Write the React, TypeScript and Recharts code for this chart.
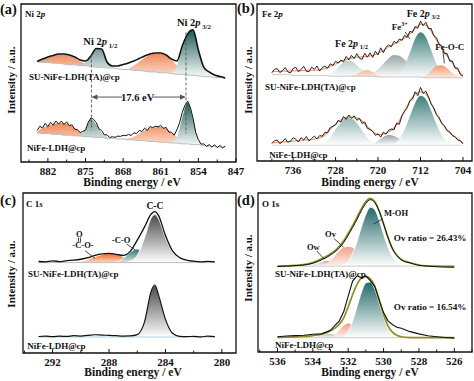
import type { ReactElement } from 'react';
import { ComposedChart, Area, Line, XAxis, YAxis, ReferenceArea, ReferenceLine, ReferenceDot } from 'recharts';

// (a) Ni 2p — fitted curves on a 1 eV grid, intensity in % of plot height
const aEnergy = [884, 883, 882, 881, 880, 879, 878, 877, 876, 875, 874, 873, 872, 871, 870, 869, 868, 867, 866, 865, 864, 863, 862, 861, 860, 859, 858, 857, 856, 855, 854, 853, 852, 851, 850, 849];
const aBgUpper = [63.5, 63, 63, 62.5, 62.5, 62, 61.5, 61.5, 61, 61, 60.5, 60, 60, 59.5, 59.5, 59, 58.5, 58.5, 58, 58, 57.5, 57, 57, 56.5, 56.5, 56, 55.5, 55.5, 55, 55, 54.5, 54, 54, 53.5, 53.5, 53];
const aSatUpper = [63.5, 65, 66.3, 67.2, 68, 68, 67.2, 65.8, 63.8, 62, 60.5, 60, 60, 59.5, 59.5, 59, 58.5, 59, 61, 63.5, 66, 67.8, 68.6, 68.6, 67.4, 64.5, 61, 58, 55.5, 55, 54.5, 54, 54, 53.5, 53.5, 53];
const aNiUpper = [63.5, 63, 63, 62.5, 62.5, 62, 61.5, 61.5, 61.5, 63, 67, 71.5, 71.2, 64, 60, 59.2, 58.5, 58.5, 58, 58, 57.5, 57, 57, 56.5, 56.5, 56.5, 60.5, 72, 80.5, 83.2, 70.5, 60, 56, 54.3, 53.6, 53];
const aFitUpper = [63.6, 65.2, 66.5, 67.4, 68.4, 68.4, 67.7, 66.5, 64.6, 63.9, 67.1, 71.8, 71.5, 63.3, 60.8, 60.8, 61.7, 62.7, 63.9, 65.5, 67.1, 68.4, 69, 69, 67.7, 65.2, 63.9, 73.4, 81, 83.6, 70.9, 60.1, 57, 55.1, 54.1, 53.2];
const aBgLower = [18.5, 18, 18, 17.5, 17.5, 17, 17, 16.5, 16.5, 16, 16, 15.5, 15.5, 15, 15, 14.5, 14.5, 14, 14, 13.5, 13.5, 13, 13, 12.5, 12.5, 12, 12, 11.5, 11.5, 11, 11, 10.5, 10, 10, 9.5, 9.5];
const aSatLower = [19.5, 21.5, 23, 24, 24.5, 24.5, 23.5, 21.5, 19, 17, 16, 15.5, 15.5, 15, 15, 14.5, 14.5, 15, 16, 18, 20, 21.3, 22, 22.2, 21, 18.5, 16, 13, 11.8, 11, 11, 10.5, 10, 10, 9.5, 9.5];
const aNiLower = [18.5, 18, 18, 17.5, 17.5, 17, 17, 16.5, 17, 20.5, 27, 23.5, 18.5, 16, 15, 14.5, 14.5, 14, 14, 13.5, 13.5, 13, 13, 12.5, 12.5, 12.8, 15.5, 28, 37.5, 27, 13.5, 11, 10.2, 10, 9.5, 9.5];
// raw NiFe-LDH@cp trace, 0.5 eV steps
const aRawEnergy = [884, 883.5, 883, 882.5, 882, 881.5, 881, 880.5, 880, 879.5, 879, 878.5, 878, 877.5, 877, 876.5, 876, 875.5, 875, 874.5, 874, 873.5, 873, 872.5, 872, 871.5, 871, 870.5, 870, 869.5, 869, 868.5, 868, 867.5, 867, 866.5, 866, 865.5, 865, 864.5, 864, 863.5, 863, 862.5, 862, 861.5, 861, 860.5, 860, 859.5, 859, 858.5, 858, 857.5, 857, 856.5, 856, 855.5, 855, 854.5, 854, 853.5, 853, 852.5, 852, 851.5, 851, 850.5, 850, 849.5, 849];
const aRawLower = [20.0, 22.6, 21.6, 24.4, 22.4, 25.1, 23.4, 25.9, 24.0, 25.9, 23.7, 25.4, 23.0, 23.5, 20.6, 20.5, 18.6, 19.3, 20.2, 25.1, 27.9, 27.0, 24.9, 21.0, 19.9, 17.2, 17.2, 15.5, 16.0, 15.6, 16.4, 16.2, 16.9, 16.7, 17.4, 16.8, 18.5, 18.0, 20.0, 19.3, 21.4, 20.0, 22.4, 21.8, 22.6, 22.3, 23.0, 21.4, 21.8, 19.0, 18.8, 17.0, 20.4, 24.8, 31.4, 35.9, 38.5, 34.7, 27.8, 18.8, 14.1, 11.3, 11.5, 9.8, 11.0, 9.4, 10.9, 9.1, 10.4, 8.9, 10.0];
const aTicks = [885.5, 882, 878.5, 875, 871.5, 868, 864.5, 861, 857.5, 854, 850.5, 847];
const aTickLabels = [882, 875, 868, 861, 854, 847];

// (b) Fe 2p
const bEnergy = [740, 739, 738, 737, 736, 735, 734, 733, 732, 731, 730, 729, 728, 727, 726, 725, 724, 723, 722, 721, 720, 719, 718, 717, 716, 715, 714, 713, 712, 711, 710, 709, 708, 707, 706, 705, 704];
const bBgUpper = [55, 55, 55, 55, 54.5, 54.5, 54.5, 54.5, 54.5, 54.5, 54.5, 54, 54, 54, 54, 54, 54, 54, 54, 54, 53.5, 53.5, 53.5, 53.5, 53.5, 53.5, 53.5, 53.5, 53.5, 53, 53, 53, 53, 53, 53, 53, 53];
const bFe2Upper = [55, 55, 55, 55, 54.5, 54.5, 54.5, 54.5, 54.5, 54.5, 54.8, 55.8, 58, 61.5, 64, 63.5, 61, 58, 55.8, 54.5, 53.8, 53.5, 53.5, 54, 56, 61, 69, 78, 82, 79, 70.5, 62, 56.5, 54.2, 53.3, 53, 53];
const bFe3Upper = [55, 55, 55, 55, 54.5, 54.5, 54.5, 54.5, 54.5, 54.5, 54.5, 54, 54, 54, 54, 54, 54, 54, 54.5, 56, 58.5, 62, 65.5, 67.5, 67, 64.5, 61.5, 58.5, 56.5, 55, 54.2, 53.5, 53, 53, 53, 53, 53];
const bSatUpper = [55, 55, 55, 55, 54.5, 54.5, 54.5, 54.5, 54.5, 54.5, 54.5, 54, 54, 54, 54, 54.3, 55.3, 57.3, 58, 56.5, 54.6, 53.6, 53.5, 53.5, 53.5, 53.5, 53.5, 53.5, 53.6, 54.6, 57.5, 60.5, 61, 59, 56, 54, 53.2];
const bFitUpper = [57, 57.1, 57.2, 57.3, 57.4, 57.5, 57.6, 57.7, 57.8, 58, 58.8, 60.2, 61.8, 63.4, 64.7, 65.6, 66.2, 66.4, 66.6, 67.2, 68.5, 70.4, 72.6, 74.5, 76.1, 78.4, 81, 84.5, 87, 86.6, 82.8, 77.1, 72, 66.9, 62.4, 58, 54.3];
const bBgLower = 10;
const bFe2Lower = [10, 10, 10, 10, 10, 10, 10, 10, 10, 10.2, 11.5, 15, 20, 24.5, 27.2, 27, 24, 19.5, 15, 12, 10.6, 10.2, 10.3, 11, 14, 20, 28.5, 37, 41.5, 39.5, 32, 23.5, 16.5, 12.5, 10.8, 10.2, 10];
const bFe3Lower = [10, 10, 10, 10, 10, 10, 10, 10, 10, 10, 10, 10, 10, 10, 10, 10, 10, 10, 10.2, 11, 13, 15.3, 16.5, 16, 14.3, 12.5, 11, 10.3, 10, 10, 10, 10, 10, 10, 10, 10, 10];
const bFitLower = [11.5, 11.8, 12.1, 12.4, 12.7, 13, 13.3, 13.6, 14, 14.7, 16.6, 20.4, 23.6, 26.1, 27.7, 28, 27.4, 25.5, 21.7, 18.8, 16.8, 17.2, 18.5, 21, 25.5, 31.9, 38.2, 42.7, 44, 42.7, 36.9, 29.9, 24.2, 19.7, 16.6, 14, 11.5];
const bRawEnergy = [740, 739.5, 739, 738.5, 738, 737.5, 737, 736.5, 736, 735.5, 735, 734.5, 734, 733.5, 733, 732.5, 732, 731.5, 731, 730.5, 730, 729.5, 729, 728.5, 728, 727.5, 727, 726.5, 726, 725.5, 725, 724.5, 724, 723.5, 723, 722.5, 722, 721.5, 721, 720.5, 720, 719.5, 719, 718.5, 718, 717.5, 717, 716.5, 716, 715.5, 715, 714.5, 714, 713.5, 713, 712.5, 712, 711.5, 711, 710.5, 710, 709.5, 709, 708.5, 708, 707.5, 707, 706.5, 706, 705.5, 705, 704.5, 704];
const bRawUpper = [56.2, 58.4, 58.9, 56.3, 57.5, 59.6, 56.8, 56.1, 58.9, 59.7, 56.9, 58.2, 60.3, 57.2, 56.9, 59.8, 58.4, 60.5, 57.3, 59.6, 60.4, 59.1, 61.9, 60.9, 63.5, 62.4, 64.3, 63.2, 66.6, 64.4, 67.3, 65.2, 68.4, 65.4, 64.8, 68.6, 66.1, 68.9, 66.0, 69.9, 67.6, 72.1, 69.0, 72.5, 73.9, 72.8, 76.2, 75.1, 77.7, 76.9, 80.0, 78.7, 82.6, 81.9, 85.7, 84.5, 89.1, 86.2, 88.4, 84.2, 84.5, 79.8, 78.6, 74.3, 73.4, 68.4, 68.5, 63.6, 63.7, 59.1, 59.2, 55.0, 54.1];
const bRawLower = [11.2, 12.9, 13.4, 11.0, 12.3, 14.3, 11.9, 12.6, 14.8, 13.9, 12.1, 14.9, 13.3, 15.6, 12.7, 14.4, 15.9, 14.0, 16.2, 15.8, 18.3, 17.9, 21.4, 22.1, 23.0, 25.9, 24.8, 28.4, 26.5, 29.3, 27.1, 28.8, 25.9, 27.2, 23.9, 24.9, 20.8, 20.1, 18.9, 16.4, 17.3, 15.2, 18.4, 17.1, 19.6, 20.4, 19.8, 24.1, 23.3, 28.9, 31.7, 33.9, 38.4, 39.5, 44.1, 41.6, 46.9, 43.0, 44.6, 40.8, 36.4, 33.8, 29.5, 27.7, 23.9, 22.5, 19.4, 18.6, 16.2, 15.5, 13.4, 12.9, 10.9];
const bTicks = [740, 736, 732, 728, 724, 720, 716, 712, 708, 704];
const bTickLabels = [736, 728, 720, 712, 704];

// (c) C 1s
const cEnergy = [293, 292.5, 292, 291.5, 291, 290.5, 290, 289.5, 289, 288.5, 288, 287.5, 287, 286.5, 286, 285.5, 285, 284.75, 284.5, 284, 283.5, 283, 282.5, 282, 281.5, 281, 280.5];
const cBgUpper = 56.5;
const cLineUpper = [57.2, 57.0, 57.6, 57.1, 57.7, 58.0, 58.6, 59.6, 61.0, 62.0, 62.3, 61.7, 61.0, 63.5, 70.5, 78.5, 87, 88.3, 86, 73.5, 63.8, 59.6, 58.0, 57.4, 57.0, 57.3, 57.0];
const cCarboxylUpper = [56.5, 56.5, 56.5, 56.5, 56.5, 56.6, 57, 58.2, 59.8, 61.3, 62, 61.5, 60, 58.3, 57, 56.6, 56.5, 56.5, 56.5, 56.5, 56.5, 56.5, 56.5, 56.5, 56.5, 56.5, 56.5];
const cCOUpper = [56.5, 56.5, 56.5, 56.5, 56.5, 56.5, 56.5, 56.5, 56.5, 56.5, 56.5, 56.8, 59, 63, 65, 62.5, 58.5, 57.5, 56.8, 56.5, 56.5, 56.5, 56.5, 56.5, 56.5, 56.5, 56.5];
const cCCUpper = [56.5, 56.5, 56.5, 56.5, 56.5, 56.5, 56.5, 56.5, 56.5, 56.5, 56.5, 56.5, 56.5, 57.5, 61, 71.5, 84.5, 86.5, 84, 72, 63, 58.5, 57, 56.6, 56.5, 56.5, 56.5];
const cBgLower = 10;
const cLineLower = [10.3, 10.6, 10.2, 10.5, 10.4, 10.8, 10.6, 11.0, 11.4, 11.2, 11.0, 10.8, 10.6, 10.7, 11.5, 19, 39, 42.5, 36.5, 21, 12.3, 10.4, 10.2, 10.4, 10.1, 10.5, 10.2];
const cCCLower = [10, 10, 10, 10, 10, 10, 10, 10, 10, 10, 10, 10, 10, 10, 10.5, 18, 38.5, 42, 36, 20.5, 12, 10.2, 10, 10, 10, 10, 10];
const cTicks = [294, 292, 290, 288, 286, 284, 282, 280];
const cTickLabels = [292, 288, 284, 280];

// (d) O 1s
const dEnergy = [536, 535.5, 535, 534.5, 534, 533.5, 533.25, 533, 532.75, 532.5, 532.25, 532, 531.75, 531.5, 531.25, 531, 530.75, 530.5, 530.25, 530, 529.75, 529.5, 529.25, 529, 528.5, 528, 527.5, 527, 526.5, 526];
const dBgUpper = 54;
const dLineUpper = [53.7, 54, 54.3, 54.7, 55.8, 58, 59.3, 61, 63, 65.5, 69, 73.5, 78.3, 83.5, 89, 93.5, 95.8, 94, 88.5, 80.5, 72, 65, 60.5, 58, 56, 54.5, 54, 53.6, 53.4, 53.3];
const dFitUpper = [54, 54.2, 54.5, 55, 56.2, 58.6, 60, 61.8, 63.8, 66.4, 70, 74.6, 79.5, 84.8, 90.2, 94.6, 96.6, 94.6, 88.8, 80.6, 72, 65.2, 60.8, 58.2, 56.1, 54.7, 54.2, 54, 53.9, 53.8];
const dOwUpper = [54, 54, 54, 54.3, 55, 56.5, 57.2, 57, 56.2, 55.2, 54.5, 54.2, 54, 54, 54, 54, 54, 54, 54, 54, 54, 54, 54, 54, 54, 54, 54, 54, 54, 54];
const dOvUpper = [54, 54, 54, 54, 54, 54.5, 55.5, 57.5, 60.5, 63.5, 65.5, 66.2, 65.5, 63, 60, 57.3, 55.5, 54.6, 54.2, 54, 54, 54, 54, 54, 54, 54, 54, 54, 54, 54];
const dMohUpper = [54, 54, 54, 54, 54, 54, 54, 54, 54, 54, 55, 57, 62, 69.5, 78.5, 86.5, 91, 89.5, 83, 74, 66, 60, 56.8, 55.2, 54.3, 54, 54, 54, 54, 54];
const dBgLower = 9;
const dLineLower = [9.6, 10.1, 10.3, 10.5, 11.2, 11.4, 12.5, 13.6, 16.8, 19.6, 25.5, 35.2, 44.6, 47.9, 46.6, 47.8, 44.9, 41.3, 32.6, 24.8, 19.6, 17.3, 15.6, 14.9, 12.8, 11.4, 10.2, 9.6, 9.1, 8.7];
const dFitLower = [9.2, 9.3, 9.5, 9.8, 10.3, 11.2, 12, 13.3, 15, 17.5, 21.5, 28.5, 36, 42.5, 46.5, 47.4, 46, 41.5, 33, 23.5, 16.5, 12.5, 10.5, 9.6, 9.1, 9, 9, 9, 9, 9];
const dOwLower = [9, 9, 9, 9, 9.3, 10.3, 11, 11.3, 11, 10.2, 9.5, 9, 9, 9, 9, 9, 9, 9, 9, 9, 9, 9, 9, 9, 9, 9, 9, 9, 9, 9];
const dOvLower = [9, 9, 9, 9, 9, 9, 9, 9.5, 11, 13.5, 16.5, 18, 17, 14.5, 11.8, 10, 9.3, 9, 9, 9, 9, 9, 9, 9, 9, 9, 9, 9, 9, 9];
const dMohLower = [9, 9, 9, 9, 9, 9, 9, 9, 9, 9, 10, 13, 19.5, 28.5, 37.5, 43.5, 44, 39.5, 31, 22, 15, 11.5, 9.8, 9.2, 9, 9, 9, 9, 9, 9];
const dTicks = [537, 536, 535, 534, 533, 532, 531, 530, 529, 528, 527, 526, 525];
const dTickLabels = [536, 534, 532, 530, 528, 526];

const aRows = aEnergy.map((e, i) => ({
  e,
  bgU: aBgUpper[i], satU: [aBgUpper[i], aSatUpper[i]], niU: [aBgUpper[i], aNiUpper[i]], fitU: aFitUpper[i],
  bgL: aBgLower[i], satL: [aBgLower[i], aSatLower[i]], niL: [aBgLower[i], aNiLower[i]],
}));
const aRaw = aRawEnergy.map((e, i) => ({ e, v: aRawLower[i] }));

const bRows = bEnergy.map((e, i) => ({
  e,
  bgU: bBgUpper[i], fe3U: [bBgUpper[i], bFe3Upper[i]], fe2U: [bBgUpper[i], bFe2Upper[i]], satU: [bBgUpper[i], bSatUpper[i]], fitU: bFitUpper[i],
  fe3L: [bBgLower, bFe3Lower[i]], fe2L: [bBgLower, bFe2Lower[i]], fitL: bFitLower[i],
}));
const bRawU = bRawEnergy.map((e, i) => ({ e, v: bRawUpper[i] }));
const bRawL = bRawEnergy.map((e, i) => ({ e, v: bRawLower[i] }));

const cRows = cEnergy.map((e, i) => ({
  e,
  lineU: cLineUpper[i], coocU: [cBgUpper, cCarboxylUpper[i]], coU: [cBgUpper, cCOUpper[i]], ccU: [cBgUpper, cCCUpper[i]],
  lineL: cLineLower[i], ccL: [cBgLower, cCCLower[i]],
}));

const dRows = dEnergy.map((e, i) => ({
  e,
  lineU: dLineUpper[i], fitU: dFitUpper[i], owU: [dBgUpper, dOwUpper[i]], ovU: [dBgUpper, dOvUpper[i]], mohU: [dBgUpper, dMohUpper[i]],
  lineL: dLineLower[i], fitL: dFitLower[i], owL: [dBgLower, dOwLower[i]], ovL: [dBgLower, dOvLower[i]], mohL: [dBgLower, dMohLower[i]],
}));

const FONT = "'Times New Roman', 'Liberation Serif', serif";
const INK = '#111';

function makeTick(labels: number[]) {
  return (props: any) => {
    const { x, y, payload } = props;
    const major = labels.includes(payload.value);
    return (
      <g>
        <line x1={x} x2={x} y1={y} y2={y - (major ? 4 : 2.5)} stroke={INK} strokeWidth={1} />
        {major && (
          <text x={x} y={y + 12.5} textAnchor="middle" fontSize={11} fontWeight={700} fontFamily={FONT} fill={INK}>
            {payload.value}
          </text>
        )}
      </g>
    );
  };
}

function note(key: string, x: number, y: number, draw: (cx: number, cy: number) => ReactElement) {
  return <ReferenceDot key={key} x={x} y={y} r={0} ifOverflow="visible" shape={(p: any) => draw(p.cx, p.cy)} />;
}

function seg(key: string, x1: number, y1: number, x2: number, y2: number, color = '#333', dash?: string) {
  return (
    <ReferenceLine key={key} segment={[{ x: x1, y: y1 }, { x: x2, y: y2 }]} stroke={color} strokeWidth={0.9} strokeDasharray={dash} ifOverflow="visible" />
  );
}

// arrow head sits on the first point of the segment
function arrowSeg(key: string, x1: number, x2: number, y: number) {
  return (
    <ReferenceLine
      key={key}
      segment={[{ x: x1, y }, { x: x2, y }]}
      ifOverflow="visible"
      shape={(p: any) => {
        const d = Math.sign(p.x2 - p.x1) || 1;
        return (
          <g>
            <line x1={p.x1 + d * 3} y1={p.y1} x2={p.x2} y2={p.y2} stroke="#555" strokeWidth={1} />
            <polygon points={`${p.x1},${p.y1} ${p.x1 + d * 6},${p.y1 - 2.6} ${p.x1 + d * 6},${p.y1 + 2.6}`} fill="#555" />
          </g>
        );
      }}
    />
  );
}

const label = (text: string, size = 9) => (x: number, y: number) => (
  <text x={x} y={y} fontSize={size} fontWeight={700} fontFamily={FONT} fill={INK}>{text}</text>
);

const orbital = (el: string, n: string, sub: string, size: number) => (x: number, y: number) => (
  <text x={x} y={y} fontSize={size} fontWeight={700} fontFamily={FONT} fill={INK}>
    {el} {n}<tspan fontStyle="italic">p</tspan>
    <tspan fontSize={size * 0.65} dy={size * 0.28}>{' ' + sub}</tspan>
  </text>
);

function frame(lo: number, hi: number) {
  return <ReferenceArea x1={lo} x2={hi} y1={0} y2={100} fill="none" stroke={INK} strokeWidth={1.3} ifOverflow="visible" />;
}

const noAnim = { isAnimationActive: false, dot: false, activeDot: false } as const;

function grad(id: string, top: string, bottom: string) {
  return (
    <linearGradient id={id} x1="0" y1="0" x2="0" y2="1">
      <stop offset="0%" stopColor={top} />
      <stop offset="100%" stopColor={bottom} />
    </linearGradient>
  );
}

function axis(domain: [number, number], ticks: number[], labels: number[], height: number) {
  return (
    <XAxis dataKey="e" type="number" domain={domain} reversed allowDataOverflow ticks={ticks} interval={0}
      tick={makeTick(labels)} tickLine={false} axisLine={false} tickSize={0} tickMargin={0} height={height} />
  );
}

export default function App() {
  return (
    <div style={{ position: 'absolute', left: 0, top: 0, width: 474, height: 381, background: '#fff', overflow: 'hidden' }}>
      {/* (a) Ni 2p */}
      <div style={{ position: 'absolute', left: 0, top: 0 }}>
        <ComposedChart width={245} height={190} data={aRows} margin={{ top: 4, right: 9, bottom: 0, left: 21 }}>
          <defs>
            {grad('aTeal', '#1f5d58', '#ffffff')}
            {grad('aOrange', '#ee8a5c', '#fce6da')}
          </defs>
          {axis([847, 887], aTicks, aTickLabels, 28)}
          <YAxis hide type="number" domain={[0, 100]} allowDataOverflow />
          <Line dataKey="bgU" type="linear" stroke="#bdbdbd" strokeWidth={1} {...noAnim} />
          <Area dataKey="satU" type="monotone" fill="url(#aOrange)" fillOpacity={1} stroke="none" {...noAnim} />
          <Area dataKey="niU" type="monotone" fill="url(#aTeal)" fillOpacity={1} stroke="none" {...noAnim} />
          <Line dataKey="fitU" type="monotone" stroke={INK} strokeWidth={1.6} {...noAnim} />
          <Line dataKey="bgL" type="linear" stroke="#bdbdbd" strokeWidth={1} {...noAnim} />
          <Area dataKey="satL" type="monotone" fill="url(#aOrange)" fillOpacity={1} stroke="none" {...noAnim} />
          <Area dataKey="niL" type="monotone" fill="url(#aTeal)" fillOpacity={1} stroke="none" {...noAnim} />
          <Line data={aRaw} dataKey="v" type="linear" stroke={INK} strokeWidth={1} {...noAnim} />
          {seg('dashL', 873.9, 68, 873.9, 20, '#555', '3 2')}
          {seg('dashR', 856.3, 82, 856.3, 18, '#555', '3 2')}
          {arrowSeg('arrL', 873.9, 868.2, 41.1)}
          {arrowSeg('arrR', 856.3, 862.4, 41.1)}
          {note('gap', 865.3, 38.9, (x, y) => (
            <text x={x} y={y} textAnchor="middle" fontSize={10.5} fontWeight={700} fontFamily={FONT} fill={INK}>17.6 eV</text>
          ))}
          {note('p12', 875.4, 74, orbital('Ni', '2', '1/2', 10.5))}
          {note('p32', 858.0, 86.1, orbital('Ni', '2', '3/2', 10.5))}
          {note('su', 885.5, 51.6, label('SU-NiFe-LDH(TA)@cp'))}
          {note('ni', 885.9, 7, label('NiFe-LDH@cp'))}
          {frame(847, 887)}
        </ComposedChart>
      </div>

      {/* (b) Fe 2p */}
      <div style={{ position: 'absolute', left: 237, top: 0 }}>
        <ComposedChart width={237} height={190} data={bRows} margin={{ top: 4, right: 2, bottom: 0, left: 20 }}>
          <defs>
            {grad('bTeal', '#3f807d', '#ffffff')}
            {grad('bGrey', '#9aa4a6', '#ffffff')}
            {grad('bOrange', '#f09a6c', '#fde9dd')}
          </defs>
          {axis([702.3, 742.8], bTicks, bTickLabels, 29)}
          <YAxis hide type="number" domain={[0, 100]} allowDataOverflow />
          <Line dataKey="bgU" type="linear" stroke="#c8c8c8" strokeWidth={1} {...noAnim} />
          <Area dataKey="fe3U" type="monotone" fill="url(#bGrey)" fillOpacity={1} stroke="none" {...noAnim} />
          <Area dataKey="fe2U" type="monotone" fill="url(#bTeal)" fillOpacity={1} stroke="none" {...noAnim} />
          <Area dataKey="satU" type="monotone" fill="url(#bOrange)" fillOpacity={1} stroke="none" {...noAnim} />
          <Line dataKey="fitU" type="monotone" stroke="#eea07a" strokeWidth={1.3} {...noAnim} />
          <Line data={bRawU} dataKey="v" type="linear" stroke={INK} strokeWidth={0.9} {...noAnim} />
          {seg('bgL', 740, bBgLower, 704, bBgLower, '#d6d6d6')}
          <Area dataKey="fe3L" type="monotone" fill="url(#bGrey)" fillOpacity={1} stroke="none" {...noAnim} />
          <Area dataKey="fe2L" type="monotone" fill="url(#bTeal)" fillOpacity={1} stroke="none" {...noAnim} />
          <Line dataKey="fitL" type="monotone" stroke="#eea07a" strokeWidth={1.3} {...noAnim} />
          <Line data={bRawL} dataKey="v" type="linear" stroke={INK} strokeWidth={0.9} {...noAnim} />
          {note('p12', 728.1, 72.9, orbital('Fe', '2', '1/2', 10))}
          {note('p32', 714.6, 92, orbital('Fe', '2', '3/2', 10))}
          {note('fe3', 717.4, 83.4, (x, y) => (
            <text x={x} y={y} fontSize={9} fontWeight={700} fontFamily={FONT} fill={INK}>
              Fe<tspan fontSize={6} dy={-4}>3+</tspan>
            </text>
          ))}
          {seg('fe3l', 714.9, 82.2, 714.0, 77.7)}
          {note('foc', 709.2, 71, label('Fe-O-C'))}
          {seg('focl', 707.8, 70.3, 707.5, 62.2)}
          {note('su', 741.3, 45.5, label('SU-NiFe-LDH(TA)@cp'))}
          {note('ni', 740.5, 2.2, label('NiFe-LDH@cp'))}
          {frame(702.3, 742.8)}
        </ComposedChart>
      </div>

      {/* (c) C 1s */}
      <div style={{ position: 'absolute', left: 0, top: 190 }}>
        <ComposedChart width={245} height={191} data={cRows} margin={{ top: 3, right: 9, bottom: 0, left: 23 }}>
          <defs>
            {grad('cOrange', '#f06a28', '#fcd9c4')}
            {grad('cTeal', '#2c7470', '#d7e8e6')}
            {grad('cGrey', '#4a4a4a', '#ffffff')}
          </defs>
          {axis([279, 294.1], cTicks, cTickLabels, 28)}
          <YAxis hide type="number" domain={[0, 100]} allowDataOverflow />
          {seg('bgU', 293, cBgUpper, 280.5, cBgUpper, '#b5b5b5')}
          <Area dataKey="coocU" type="monotone" fill="url(#cOrange)" fillOpacity={1} stroke="none" {...noAnim} />
          <Area dataKey="coU" type="monotone" fill="url(#cTeal)" fillOpacity={1} stroke="#ffffff" strokeWidth={0.8} {...noAnim} />
          <Area dataKey="ccU" type="monotone" fill="url(#cGrey)" fillOpacity={1} stroke="#ffffff" strokeWidth={0.8} {...noAnim} />
          <Line dataKey="lineU" type="monotone" stroke={INK} strokeWidth={1.3} {...noAnim} />
          {seg('bgL', 293, cBgLower, 280.5, cBgLower, '#a9cde0')}
          <Area dataKey="ccL" type="monotone" fill="url(#cGrey)" fillOpacity={1} stroke="none" {...noAnim} />
          <Line dataKey="lineL" type="monotone" stroke={INK} strokeWidth={1.2} {...noAnim} />
          {note('cc', 284.75, 89.7, (x, y) => (
            <text x={x} y={y} textAnchor="middle" fontSize={9.5} fontWeight={700} fontFamily={FONT} fill={INK}>C-C</text>
          ))}
          {note('co', 287.8, 69, label('-C-O', 8.5))}
          {seg('col', 286.75, 68.1, 286.15, 64.4)}
          {note('cooc', 290.6, 65.6, label('-C-O-', 8.5))}
          {note('dbl', 290.1, 72.8, (x, y) => (
            <g>
              <text x={x} y={y} textAnchor="middle" fontSize={8.5} fontWeight={700} fontFamily={FONT} fill={INK}>O</text>
              <line x1={x - 1} x2={x - 1} y1={y + 1} y2={y + 5.5} stroke={INK} strokeWidth={0.8} />
              <line x1={x + 1} x2={x + 1} y1={y + 1} y2={y + 5.5} stroke={INK} strokeWidth={0.8} />
            </g>
          ))}
          {seg('coocl', 289.7, 63.9, 289.0, 59.2)}
          {note('su', 293.75, 47.5, label('SU-NiFe-LDH(TA)@cp'))}
          {note('ni', 293.8, 2.5, label('NiFe-LDH@cp'))}
          {frame(279, 294.1)}
        </ComposedChart>
      </div>

      {/* (d) O 1s */}
      <div style={{ position: 'absolute', left: 237, top: 190 }}>
        <ComposedChart width={237} height={191} data={dRows} margin={{ top: 3, right: 2, bottom: 0, left: 21 }}>
          <defs>
            {grad('dTeal', '#24686a', '#ffffff')}
            {grad('dOrange', '#f3a088', '#fff1ec')}
            {grad('dGrey', '#b5b5b5', '#ffffff')}
          </defs>
          {axis([525, 537.1], dTicks, dTickLabels, 29)}
          <YAxis hide type="number" domain={[0, 100]} allowDataOverflow />
          {seg('bgU', 536, dBgUpper, 526, dBgUpper, '#c4c4c4')}
          <Area dataKey="owU" type="monotone" fill="url(#dGrey)" fillOpacity={1} stroke="none" {...noAnim} />
          <Area dataKey="ovU" type="monotone" fill="url(#dOrange)" fillOpacity={1} stroke="none" {...noAnim} />
          <Area dataKey="mohU" type="monotone" fill="url(#dTeal)" fillOpacity={1} stroke="#ffffff" strokeWidth={0.8} {...noAnim} />
          <Line dataKey="fitU" type="monotone" stroke="#8f8d22" strokeWidth={1.7} {...noAnim} />
          <Line dataKey="lineU" type="monotone" stroke={INK} strokeWidth={1} {...noAnim} />
          {seg('bgL', 536, dBgLower, 526, dBgLower, '#c4c4c4')}
          <Area dataKey="owL" type="monotone" fill="url(#dGrey)" fillOpacity={1} stroke="none" {...noAnim} />
          <Area dataKey="ovL" type="monotone" fill="url(#dOrange)" fillOpacity={1} stroke="none" {...noAnim} />
          <Area dataKey="mohL" type="monotone" fill="url(#dTeal)" fillOpacity={1} stroke="#ffffff" strokeWidth={0.8} {...noAnim} />
          <Line dataKey="fitL" type="monotone" stroke="#8f8d22" strokeWidth={1.7} {...noAnim} />
          <Line dataKey="lineL" type="linear" stroke={INK} strokeWidth={1.1} {...noAnim} />
          {note('moh', 529.98, 85.5, label('M-OH', 8.5))}
          {seg('mohl', 530.04, 83.7, 530.57, 80.5)}
          {note('ov', 533.31, 72.6, label('Ov', 8.5))}
          {seg('ovl', 532.82, 71.5, 532.26, 65.9)}
          {note('ow', 534.33, 64.2, label('Ow', 8.5))}
          {seg('owl', 533.77, 63.5, 533.35, 58.3)}
          {note('r1', 529.42, 69.5, label('Ov ratio = 26.43%', 9.2))}
          {note('r2', 529.42, 26.4, label('Ov ratio = 16.54%', 9.2))}
          {note('su', 536.14, 47.2, label('SU-NiFe-LDH(TA)@cp'))}
          {note('ni', 536.14, 2.5, label('NiFe-LDH@cp'))}
          {frame(525, 537.1)}
        </ComposedChart>
      </div>

      <svg width={474} height={381} style={{ position: 'absolute', left: 0, top: 0, pointerEvents: 'none' }}
        fontFamily={FONT} fontWeight={700} fill={INK}>
        <text x={0} y={13.5} fontSize={14.5}>(a)</text>
        <text x={237} y={12.5} fontSize={14.5}>(b)</text>
        <text x={0} y={205} fontSize={14.5}>(c)</text>
        <text x={237} y={204.5} fontSize={14.5}>(d)</text>
        <text x={25} y={17} fontSize={9}>Ni 2<tspan fontStyle="italic">p</tspan></text>
        <text x={262} y={17} fontSize={9}>Fe 2<tspan fontStyle="italic">p</tspan></text>
        <text x={26} y={207} fontSize={9}>C 1<tspan fontStyle="italic">s</tspan></text>
        <text x={262} y={207} fontSize={9}>O 1s</text>
        <text transform="translate(15,80) rotate(-90)" textAnchor="middle" fontSize={11}>Intensity / a.u.</text>
        <text transform="translate(252,80) rotate(-90)" textAnchor="middle" fontSize={11}>Intensity / a.u.</text>
        <text transform="translate(15,274) rotate(-90)" textAnchor="middle" fontSize={11}>Intensity / a.u.</text>
        <text transform="translate(252,268) rotate(-90)" textAnchor="middle" fontSize={11}>Intensity / a.u.</text>
        <text x={132} y={186} textAnchor="middle" fontSize={11.5}>Binding energy / eV</text>
        <text x={370} y={186} textAnchor="middle" fontSize={11.5}>Binding energy / eV</text>
        <text x={133} y={376} textAnchor="middle" fontSize={11.5}>Binding energy / eV</text>
        <text x={370} y={376} textAnchor="middle" fontSize={11.5}>Binding energy / eV</text>
      </svg>
    </div>
  );
}
